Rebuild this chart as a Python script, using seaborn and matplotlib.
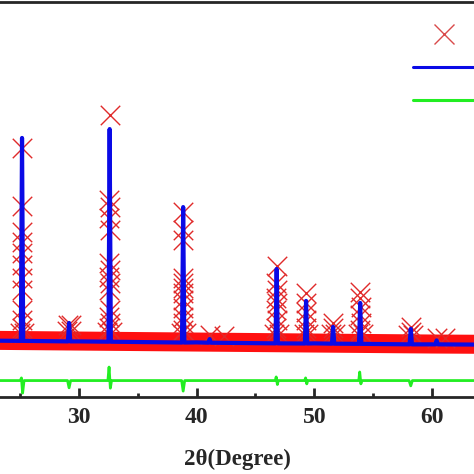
# Rietveld refinement plot (observed / calculated / difference)
import matplotlib
matplotlib.use("Agg")
import matplotlib.pyplot as plt
from matplotlib.lines import Line2D
from matplotlib.ticker import MultipleLocator
import seaborn as sns
import pandas as pd

# background
bg_theta = [20, 30, 40, 50, 60, 70]
bg_calc = [720, 690, 660, 630, 600, 580]
bg_obs = [730, 700, 670, 640, 610, 590]

# calculated peaks: position, top, base
peak_pos = [25.15, 29.15, 32.6, 38.85, 41.1, 46.8, 49.3, 51.6, 53.9, 58.2, 60.4]
peak_calc = [6870, 1250, 7140, 4770, 760, 2890, 1920, 1130, 1860, 1070, 720]
peak_base = [705, 690, 680, 655, 650, 630, 625, 620, 615, 600, 600]

# observed points standing out of the background band
obs_theta = [
    25.13, 25.17, 25.13, 25.17, 25.13, 25.17, 25.13, 25.17, 25.13, 25.17, 25.13, 24.95, 25.35,
    29.02, 29.28, 28.95, 29.35,
    32.6, 32.58, 32.62, 32.58, 32.62, 32.58, 32.62, 32.58, 32.62, 32.58, 32.62, 32.58, 32.62, 32.58, 32.4, 32.8,
    38.85, 38.83, 38.87, 38.83, 38.87, 38.83, 38.87, 38.83, 38.87, 38.83, 38.87, 38.83, 38.65, 39.05,
    41.1, 42.3,
    46.8, 46.78, 46.82, 46.78, 46.82, 46.78, 46.82, 46.78, 46.6, 47.0,
    49.3, 49.28, 49.32, 49.28, 49.32, 49.1, 49.5,
    51.6, 51.58, 51.4, 51.8,
    53.92, 53.88, 53.96, 53.88, 53.96, 53.88, 53.7, 54.1,
    58.2, 58.18, 58.0, 58.4,
    60.4, 61.1,
]
obs_int = [
    6560, 4800, 4010, 3710, 3370, 3010, 2620, 2250, 1640, 1340, 1100, 960, 960,
    1190, 1190, 1000, 1000,
    7570, 4990, 4770, 4440, 4070, 3070, 2860, 2650, 2460, 2250, 1640, 1430, 1250, 1100, 980, 980,
    4620, 4070, 3770, 2620, 2460, 2310, 2160, 1950, 1700, 1430, 1250, 1040, 940, 940,
    880, 860,
    2980, 2460, 2250, 2010, 1860, 1640, 1340, 1100, 920, 920,
    2160, 1860, 1580, 1340, 1100, 910, 910,
    1250, 1100, 900, 900,
    2190, 2010, 1730, 1490, 1250, 1040, 920, 920,
    1130, 970, 880, 880,
    800, 790,
]

# difference curve vertices
diff_theta = [20, 25.0, 25.1, 25.2, 25.32, 29.02, 29.15, 29.28, 32.45, 32.55, 32.66, 32.76,
              38.72, 38.85, 38.98, 46.68, 46.76, 46.86, 46.94, 49.18, 49.26, 49.36, 49.44,
              53.78, 53.86, 53.96, 54.04, 58.06, 58.2, 58.34, 70]
diff_int = [-500, -500, -420, -880, -500, -500, -720, -500, -500, -90, -730, -500,
            -500, -820, -500, -500, -390, -620, -500, -500, -420, -600, -500,
            -500, -240, -600, -500, -500, -660, -500, -500]

# calculated profile: background points plus narrow peak spikes
rows = list(zip(bg_theta, bg_calc))
for p, top, base in zip(peak_pos, peak_calc, peak_base):
    rows += [(p - 0.1, base), (p, top), (p + 0.1, base)]
calc = pd.DataFrame(rows, columns=["theta", "I"]).sort_values("theta")

sns.set_style("ticks")
plt.rcParams["font.family"] = ["Liberation Serif", "DejaVu Serif"]
plt.rcParams["font.weight"] = "bold"

fig = plt.figure(figsize=(4.74, 4.74), dpi=100)
ax = fig.add_axes([-0.0565, 0.1624, 1.1166, 0.8334])

# observed: dense band of crosses at the background, plus the crosses on peaks
sns.lineplot(x=bg_theta, y=bg_obs, color="#ff1010", linewidth=13.7,
             solid_capstyle="butt", estimator=None, sort=False, ax=ax)
sns.scatterplot(x=obs_theta, y=obs_int, marker="x", s=196, color="#e02a2a",
                linewidth=1.0, ax=ax, legend=False, zorder=3)
sns.lineplot(data=calc, x="theta", y="I", color="#0a0ae6", linewidth=3,
             estimator=None, sort=False, ax=ax, zorder=4)
sns.lineplot(x=diff_theta, y=diff_int, color="#22ee22", linewidth=2,
             estimator=None, sort=False, ax=ax, zorder=4)

ax.set_xlim(21, 66)
ax.set_ylim(-1000, 11000)
ax.set_yticks([])
ax.xaxis.set_major_locator(MultipleLocator(10))
ax.xaxis.set_minor_locator(MultipleLocator(5))
ax.tick_params(axis="x", which="major", direction="in", length=6.5, width=2,
               labelsize=17, pad=7)
ax.tick_params(axis="x", which="minor", direction="in", length=3, width=2)
for sp in ax.spines.values():
    sp.set_visible(True)
    sp.set_linewidth(2)
ax.set_xlabel("2θ(Degree)", fontsize=16.5, fontweight="bold", labelpad=15)
ax.set_ylabel("")

handles = [
    Line2D([], [], marker="x", ls="none", color="#d94a4a", markersize=14, mew=1),
    Line2D([], [], color="#0a0ae6", lw=2.2),
    Line2D([], [], color="#22ee22", lw=2.2),
]
fig.legend(handles, ["Observed", "Calculated", "Difference"], loc="upper left",
           bbox_to_anchor=(413 / 474, 1 - 26 / 474), frameon=False, borderpad=0,
           handlelength=3, fontsize=15, labelspacing=0.62, borderaxespad=0)

fig.savefig("out.png", dpi=100)
